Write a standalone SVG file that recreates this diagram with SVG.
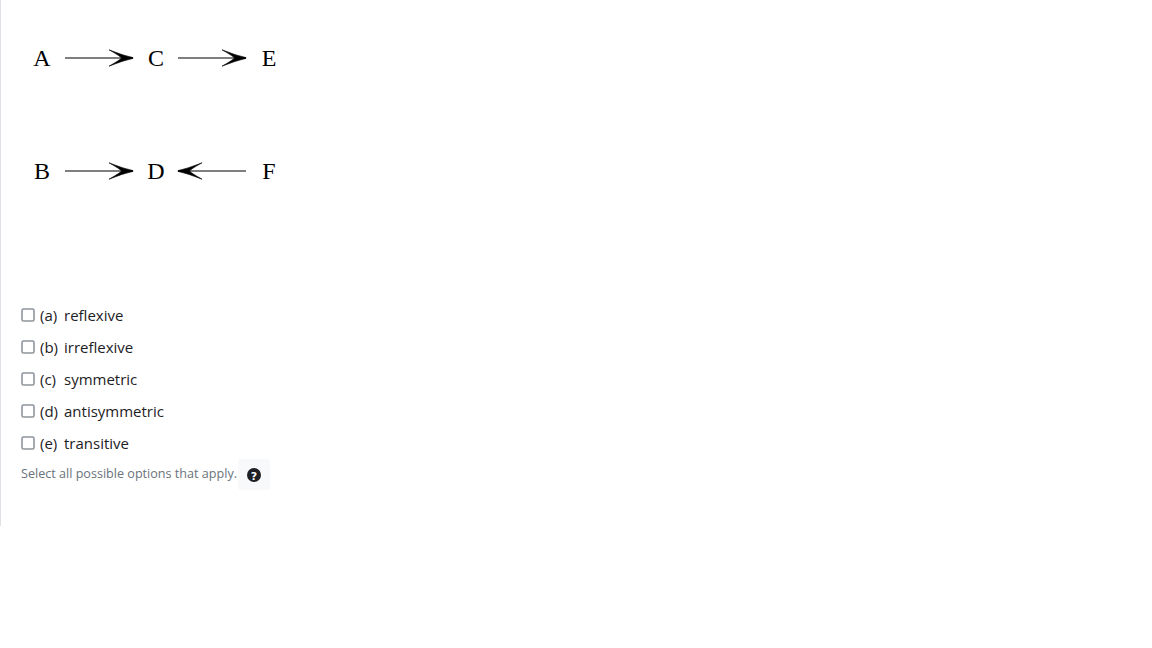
<svg xmlns="http://www.w3.org/2000/svg" width="1152" height="648" viewBox="0 0 1152 648">
<defs>
<style>
.lbl{font-family:"Liberation Serif","DejaVu Serif",serif;font-size:24px;fill:#000;text-anchor:middle}
.edge{stroke:#000;stroke-width:1.2;fill:none}
.opt{font-family:"Open Sans","Noto Sans",sans-serif;font-size:15px;fill:#1d2125}
.box{fill:#fff;stroke:#8f959e;stroke-width:1.6}
.hint{font-family:"Open Sans","Noto Sans",sans-serif;font-size:12.6px;fill:#6a737b}
</style>
<marker id="ah" viewBox="0 0 26 18" refX="25" refY="9" markerWidth="26" markerHeight="18" markerUnits="userSpaceOnUse" orient="auto">
<path d="M1,0.8 Q15,6.5 25,8.6 L25,9.4 Q15,11.5 1,17.2 Q12,11 13.5,9 Q12,7 1,0.8 Z" fill="#000" stroke="#000" stroke-width="0.6" stroke-linejoin="round"/>
</marker>
</defs>
<rect width="1152" height="648" fill="#fff"/>
<line x1="0.5" y1="0" x2="0.5" y2="526" stroke="#dee2e6" stroke-width="1"/>
<g id="connectors">
<line class="edge" x1="65" y1="58" x2="133" y2="58" marker-end="url(#ah)"/>
<line class="edge" x1="178" y1="58" x2="246" y2="58" marker-end="url(#ah)"/>
<line class="edge" x1="65" y1="171" x2="133" y2="171" marker-end="url(#ah)"/>
<line class="edge" x1="246" y1="171" x2="178" y2="171" marker-end="url(#ah)"/>
</g>
<g id="node-A"><text class="lbl" x="42" y="66">A</text></g>
<g id="node-C"><text class="lbl" x="156" y="66">C</text></g>
<g id="node-E"><text class="lbl" x="269" y="66">E</text></g>
<g id="node-B"><text class="lbl" x="42" y="179">B</text></g>
<g id="node-D"><text class="lbl" x="156" y="179">D</text></g>
<g id="node-F"><text class="lbl" x="269" y="179">F</text></g>
<g id="options">
<rect class="box" x="22" y="309" width="12" height="12" rx="1.5"/>
<text class="opt" x="40" y="321">(a)</text><text class="opt" x="64" y="321">reflexive</text>
<rect class="box" x="22" y="341" width="12" height="12" rx="1.5"/>
<text class="opt" x="40" y="353">(b)</text><text class="opt" x="64" y="353">irreflexive</text>
<rect class="box" x="22" y="373" width="12" height="12" rx="1.5"/>
<text class="opt" x="40" y="385">(c)</text><text class="opt" x="64" y="385">symmetric</text>
<rect class="box" x="22" y="405" width="12" height="12" rx="1.5"/>
<text class="opt" x="40" y="417">(d)</text><text class="opt" x="64" y="417">antisymmetric</text>
<rect class="box" x="22" y="437" width="12" height="12" rx="1.5"/>
<text class="opt" x="40" y="449">(e)</text><text class="opt" x="64" y="449">transitive</text>
</g>
<g id="hint">
<rect x="238" y="459" width="32" height="31" rx="3" fill="#f8f9fa"/>
<text class="hint" x="21" y="478">Select all possible options that apply.</text>
<circle cx="254" cy="475" r="7" fill="#1d2125"/>
<text x="254" y="479.5" font-family="'DejaVu Sans',sans-serif" font-size="11" font-weight="bold" fill="#fff" text-anchor="middle">?</text>
</g>
</svg>
